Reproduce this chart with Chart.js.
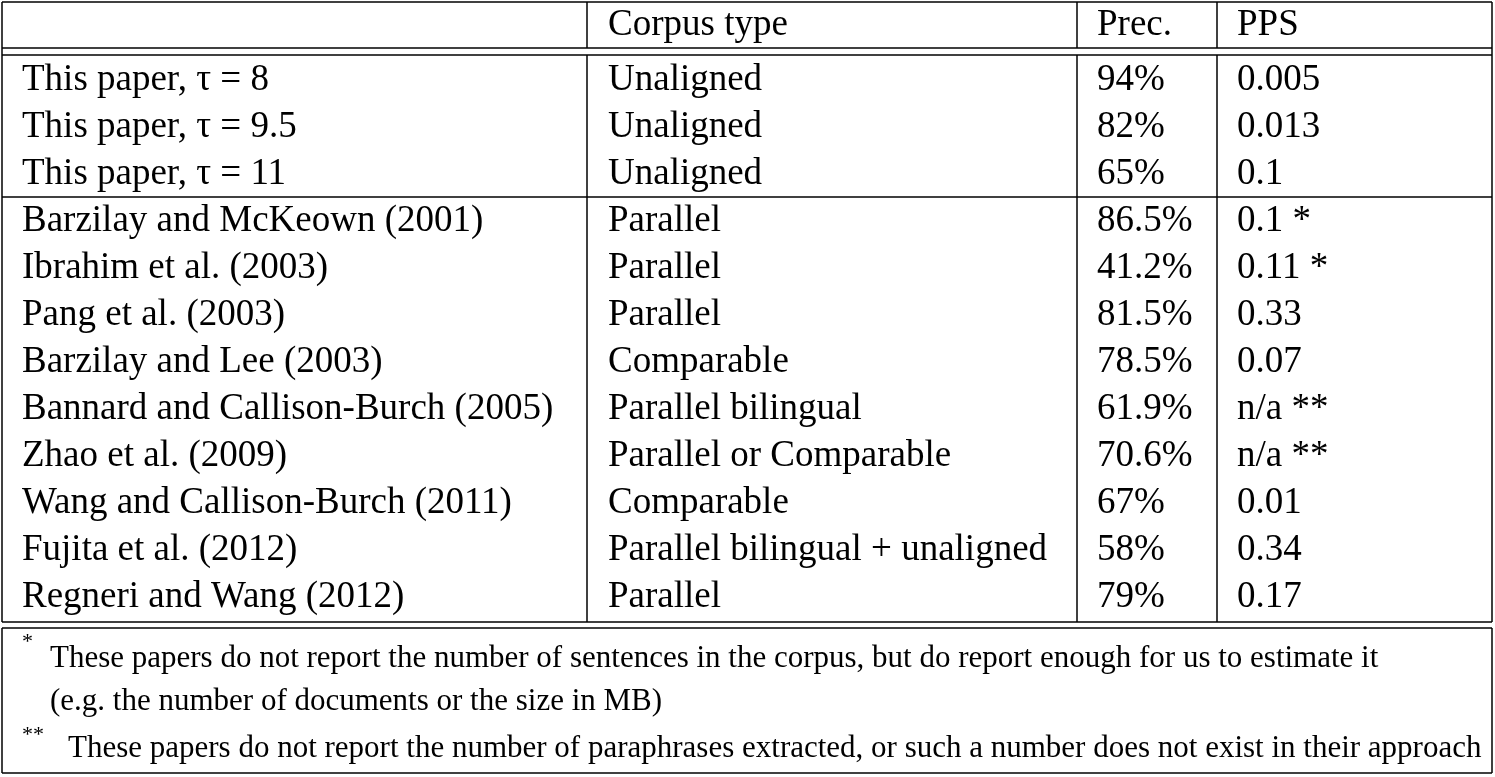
<!DOCTYPE html>
<html>
<head>
<meta charset="utf-8">
<script src="https://cdn.jsdelivr.net/npm/chart.js@4"></script>
<style>
  html, body { margin: 0; padding: 0; background: #fff; }
  canvas { display: block; }
</style>
</head>
<body>
<canvas id="tbl" width="1495" height="777"></canvas>
<script>
// table data
const headers = ['', 'Corpus type', 'Prec.', 'PPS'];
const systems = ['This paper, τ = 8', 'This paper, τ = 9.5', 'This paper, τ = 11',
  'Barzilay and McKeown (2001)', 'Ibrahim et al. (2003)', 'Pang et al. (2003)',
  'Barzilay and Lee (2003)', 'Bannard and Callison-Burch (2005)', 'Zhao et al. (2009)',
  'Wang and Callison-Burch (2011)', 'Fujita et al. (2012)', 'Regneri and Wang (2012)'];
const corpusTypes = ['Unaligned', 'Unaligned', 'Unaligned', 'Parallel', 'Parallel', 'Parallel',
  'Comparable', 'Parallel bilingual', 'Parallel or Comparable', 'Comparable',
  'Parallel bilingual + unaligned', 'Parallel'];
const precision = ['94%', '82%', '65%', '86.5%', '41.2%', '81.5%', '78.5%', '61.9%', '70.6%', '67%', '58%', '79%'];
const pps = ['0.005', '0.013', '0.1', '0.1 *', '0.11 *', '0.33', '0.07', 'n/a **', 'n/a **', '0.01', '0.34', '0.17'];
const footnotes = [
  ['*', 'These papers do not report the number of sentences in the corpus, but do report enough for us to estimate it'],
  ['', '(e.g. the number of documents or the size in MB)'],
  ['**', 'These papers do not report the number of paraphrases extracted, or such a number does not exist in their approach']
];

const colX = [22, 608, 1097, 1237];
const colLines = [587, 1077, 1217];
const serif = '"Liberation Serif", "DejaVu Serif", serif';

const tablePlugin = {
  id: 'table',
  beforeDraw: (chart) => {
    const { ctx, width, height } = chart;
    ctx.save();
    ctx.fillStyle = '#fff';
    ctx.fillRect(0, 0, width, height);
    ctx.restore();
  },
  afterDraw: (chart) => {
    const { ctx, scales } = chart;
    const X = v => scales.x.getPixelForValue(v);
    const Y = v => scales.y.getPixelForValue(v);
    ctx.save();
    ctx.strokeStyle = '#000';
    ctx.lineWidth = 1.5;
    const hl = (y, x0 = 2, x1 = 1492) => { ctx.beginPath(); ctx.moveTo(X(x0), Y(y)); ctx.lineTo(X(x1), Y(y)); ctx.stroke(); };
    const vl = (x, y0, y1) => { ctx.beginPath(); ctx.moveTo(X(x), Y(y0)); ctx.lineTo(X(x), Y(y1)); ctx.stroke(); };

    // horizontal rules
    hl(2); hl(48); hl(55); hl(197); hl(622); hl(628); hl(773);
    // vertical rules
    vl(2, 2, 622); vl(1492, 2, 622);
    colLines.forEach(x => { vl(x, 2, 48); vl(x, 55, 622); });
    vl(2, 628, 773); vl(1492, 628, 773);

    ctx.fillStyle = '#000';
    ctx.textBaseline = 'middle';
    ctx.textAlign = 'left';
    ctx.font = '37px ' + serif;
    headers.forEach((h, c) => ctx.fillText(h, X(colX[c]), Y(25)));

    systems.forEach((s, i) => {
      const y = Y(80 + 47 * i);
      ctx.fillText(s, X(colX[0]), y);
      ctx.fillText(corpusTypes[i], X(colX[1]), y);
      ctx.fillText(precision[i], X(colX[2]), y);
      ctx.fillText(pps[i], X(colX[3]), y);
    });

    // footnotes
    ctx.font = '31px ' + serif;
    ctx.fillText(footnotes[0][1], X(50), Y(659));
    ctx.fillText(footnotes[1][1], X(50), Y(702));
    ctx.fillText(footnotes[2][1], X(68), Y(749));
    ctx.font = '22px ' + serif;
    ctx.fillText(footnotes[0][0], X(22), Y(642));
    ctx.fillText(footnotes[2][0], X(22), Y(735));
    ctx.restore();
  }
};

new Chart(document.getElementById('tbl'), {
  type: 'scatter',
  data: { datasets: [{ data: [] }] },
  options: {
    responsive: false,
    animation: false,
    layout: { padding: 0 },
    plugins: { legend: { display: false }, tooltip: { enabled: false } },
    scales: {
      x: { type: 'linear', min: 0, max: 1495, display: false },
      y: { type: 'linear', min: 0, max: 777, reverse: true, display: false }
    }
  },
  plugins: [tablePlugin]
});
</script>
</body>
</html>
